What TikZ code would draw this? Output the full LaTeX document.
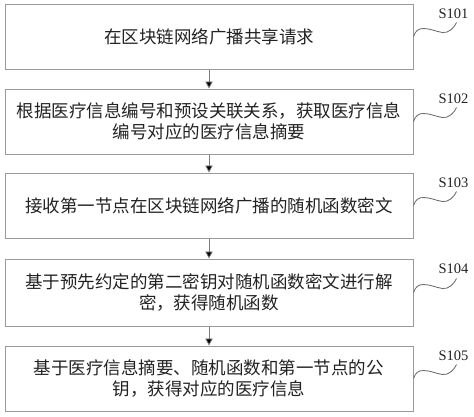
\documentclass[tikz,border=0pt]{standalone}
\usepackage{fontspec}
\setmainfont{Liberation Serif}
\newfontfamily\cjk{Noto Sans CJK SC}
\usetikzlibrary{arrows.meta,calc}
\definecolor{boxgray}{HTML}{9A9A9A}
\definecolor{txt}{HTML}{222222}
\begin{document}
\begin{tikzpicture}[x=1pt,y=-1pt,
  stepbox/.style={draw=boxgray,line width=1pt,minimum width=408pt,minimum height=65pt,
    inner sep=0pt,align=center,text=txt,font=\cjk\fontsize{17.5}{20.5}\selectfont},
  flow/.style={draw=boxgray!80!black,line width=0.8pt,-{Triangle[width=7.5pt,length=7pt,fill=black]}},
  steplabel/.style={font=\fontsize{14.5}{16}\selectfont,text=txt,inner sep=0pt},
  wave/.style={draw=txt!70,line width=0.8pt}
]
\useasboundingbox (0,0) rectangle (474,416);
\node[stepbox] (b1) at (209,36.5) {在区块链网络广播共享请求};
\node[stepbox] (b2) at (209,121.5) {根据医疗信息编号和预设关联关系，获取医疗信息\\编号对应的医疗信息摘要};
\node[stepbox] (b3) at (209,205.5) {接收第一节点在区块链网络广播的随机函数密文};
\node[stepbox,minimum height=67pt] (b4) at (209,292.5) {基于预先约定的第二密钥对随机函数密文进行解\\密，获得随机函数};
\node[stepbox] (b5) at (209,378.5) {基于医疗信息摘要、随机函数和第一节点的公\\钥，获得对应的医疗信息};
\draw[flow] (b1.south) -- (b2.north);
\draw[flow] (b2.south) -- (b3.north);
\draw[flow] (b3.south) -- (b4.north);
\draw[flow] (b4.south) -- (b5.north);
\foreach \b/\s in {b1/S101,b2/S102,b3/S103,b4/S104,b5/S105}{
  \node[steplabel] (l\b) at ($(\b.north east)+(40,10.5)$) {\s};
  \draw[wave] (\b.east) .. controls ++(2,-6) and ++(-5,0) .. ++(10,-8)
     .. controls ++(7,0) and ++(-7,-1) .. ++(19,4)
     .. controls ++(6,1) and ++(-2,5) .. ++(14,-10);
}
\end{tikzpicture}
\end{document}
